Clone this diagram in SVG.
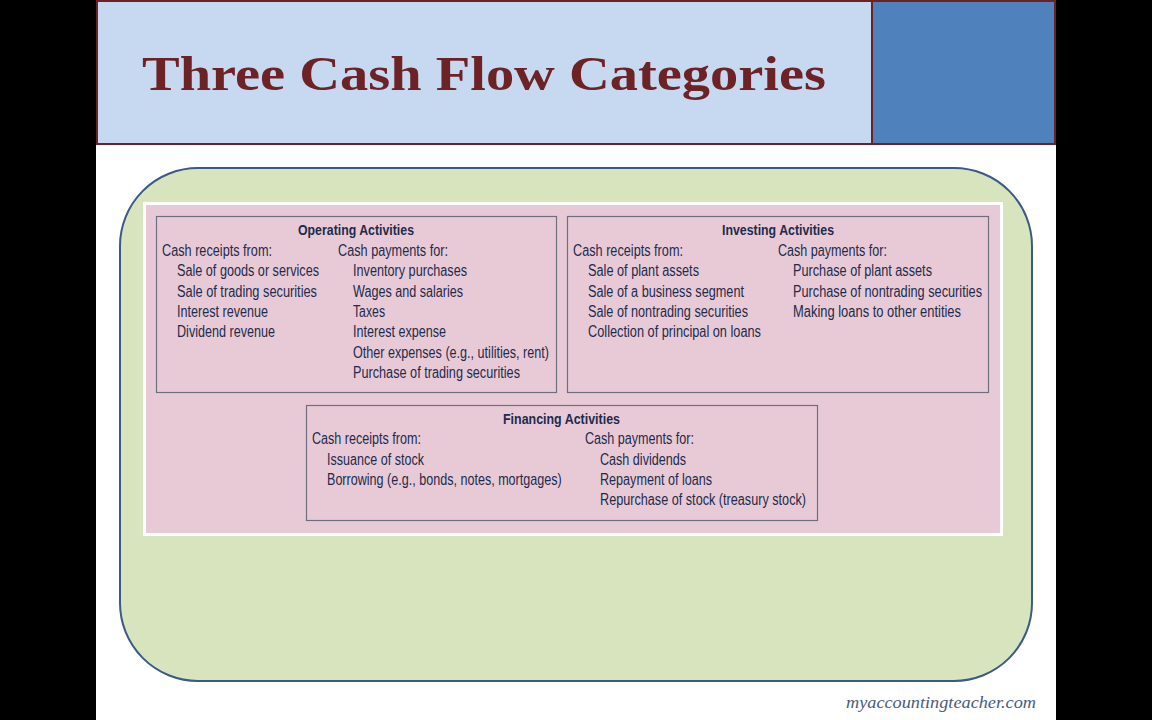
<svg xmlns="http://www.w3.org/2000/svg" width="1152" height="720" viewBox="0 0 1152 720">
<style>
.t{font-family:"Liberation Sans",Arial,sans-serif;font-size:16px;fill:#1d2b4c}
.h{font-family:"Liberation Sans",Arial,sans-serif;font-size:15.5px;font-weight:bold;fill:#1d2b4c}
.box{fill:none;stroke:#6e6e80;stroke-width:1.2}
</style>
<rect x="0" y="0" width="1152" height="720" fill="#000"/>
<rect x="96" y="0" width="960" height="720" fill="#fff"/>
<g id="header">
<rect x="97" y="1" width="775" height="143" fill="#c6d9f0" stroke="#6b2226" stroke-width="2"/>
<rect x="872" y="1" width="183" height="143" fill="#4f81bd" stroke="#6b2226" stroke-width="2"/>
<text x="142" y="90" font-family="Liberation Serif,serif" font-weight="bold" font-size="48" fill="#6d2226" textLength="684" lengthAdjust="spacingAndGlyphs">Three Cash Flow Categories</text>
</g>
<g id="panel">
<rect x="120" y="168" width="912" height="513" rx="78" ry="78" fill="#d7e4bd" stroke="#3b5a86" stroke-width="2"/>
<rect x="143" y="202" width="860" height="334" fill="#fff"/>
<rect x="146" y="205" width="854" height="328" fill="#e8cad6"/>
</g>
<g id="operating">
<rect class="box" x="156.5" y="216.5" width="400" height="176"/>
<text class="h" x="298" y="235" textLength="116" lengthAdjust="spacingAndGlyphs">Operating Activities</text>
<text class="t" x="162" y="255.5" textLength="110" lengthAdjust="spacingAndGlyphs">Cash receipts from:</text>
<text class="t" x="177" y="276" textLength="142" lengthAdjust="spacingAndGlyphs">Sale of goods or services</text>
<text class="t" x="177" y="296.5" textLength="140" lengthAdjust="spacingAndGlyphs">Sale of trading securities</text>
<text class="t" x="177" y="316.5" textLength="91" lengthAdjust="spacingAndGlyphs">Interest revenue</text>
<text class="t" x="177" y="337" textLength="98" lengthAdjust="spacingAndGlyphs">Dividend revenue</text>
<text class="t" x="338" y="255.5" textLength="110" lengthAdjust="spacingAndGlyphs">Cash payments for:</text>
<text class="t" x="353" y="276" textLength="114" lengthAdjust="spacingAndGlyphs">Inventory purchases</text>
<text class="t" x="353" y="296.5" textLength="110" lengthAdjust="spacingAndGlyphs">Wages and salaries</text>
<text class="t" x="353" y="316.5" textLength="32" lengthAdjust="spacingAndGlyphs">Taxes</text>
<text class="t" x="353" y="337" textLength="93" lengthAdjust="spacingAndGlyphs">Interest expense</text>
<text class="t" x="353" y="357.5" textLength="196" lengthAdjust="spacingAndGlyphs">Other expenses (e.g., utilities, rent)</text>
<text class="t" x="353" y="377.5" textLength="167" lengthAdjust="spacingAndGlyphs">Purchase of trading securities</text>
</g>
<g id="investing">
<rect class="box" x="567.5" y="216.5" width="421" height="176"/>
<text class="h" x="722" y="235" textLength="112" lengthAdjust="spacingAndGlyphs">Investing Activities</text>
<text class="t" x="573" y="255.5" textLength="110" lengthAdjust="spacingAndGlyphs">Cash receipts from:</text>
<text class="t" x="588" y="276" textLength="111" lengthAdjust="spacingAndGlyphs">Sale of plant assets</text>
<text class="t" x="588" y="296.5" textLength="156" lengthAdjust="spacingAndGlyphs">Sale of a business segment</text>
<text class="t" x="588" y="316.5" textLength="160" lengthAdjust="spacingAndGlyphs">Sale of nontrading securities</text>
<text class="t" x="588" y="337" textLength="173" lengthAdjust="spacingAndGlyphs">Collection of principal on loans</text>
<text class="t" x="778" y="255.5" textLength="109" lengthAdjust="spacingAndGlyphs">Cash payments for:</text>
<text class="t" x="793" y="276" textLength="139" lengthAdjust="spacingAndGlyphs">Purchase of plant assets</text>
<text class="t" x="793" y="296.5" textLength="189" lengthAdjust="spacingAndGlyphs">Purchase of nontrading securities</text>
<text class="t" x="793" y="316.5" textLength="168" lengthAdjust="spacingAndGlyphs">Making loans to other entities</text>
</g>
<g id="financing">
<rect class="box" x="306.5" y="405.5" width="511" height="115"/>
<text class="h" x="503" y="423.5" textLength="117" lengthAdjust="spacingAndGlyphs">Financing Activities</text>
<text class="t" x="312" y="444" textLength="109" lengthAdjust="spacingAndGlyphs">Cash receipts from:</text>
<text class="t" x="327" y="464.5" textLength="97" lengthAdjust="spacingAndGlyphs">Issuance of stock</text>
<text class="t" transform="translate(327 485) scale(0.7865 1)" x="0" y="0">Borrowing (e.g., bonds, notes, mortgages)</text>
<text class="t" x="585" y="444" textLength="109" lengthAdjust="spacingAndGlyphs">Cash payments for:</text>
<text class="t" x="600" y="464.5" textLength="86" lengthAdjust="spacingAndGlyphs">Cash dividends</text>
<text class="t" x="600" y="485" textLength="112" lengthAdjust="spacingAndGlyphs">Repayment of loans</text>
<text class="t" x="600" y="505" textLength="206" lengthAdjust="spacingAndGlyphs">Repurchase of stock (treasury stock)</text>
</g>
<g id="connectors"/>
<text x="846" y="708" font-family="Liberation Serif,serif" font-style="italic" font-size="16" fill="#4a5a7c" textLength="190" lengthAdjust="spacingAndGlyphs">myaccountingteacher.com</text>
</svg>
